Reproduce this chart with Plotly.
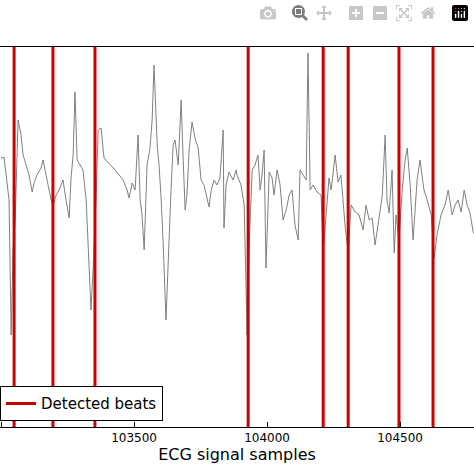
import plotly.graph_objects as go

# ECG samples (x) and amplitude (screen-down units, y axis reversed)
samples = [103000,103011,103019,103030,103038,103045,103053,103064,103075,103083,103094,103105,103117,103124,103135,103150,103158,103165,103177,103188,103196,103207,103218,103233,103244,103256,103263,103271,103278,103286,103297,103308,103320,103331,103338,103346,103357,103365,103376,103387,103402,103414,103429,103444,103459,103474,103481,103493,103504,103515,103523,103530,103538,103549,103560,103568,103575,103587,103594,103602,103609,103620,103632,103639,103647,103654,103666,103677,103684,103692,103699,103707,103718,103729,103741,103752,103763,103775,103782,103790,103801,103812,103823,103835,103838,103846,103857,103872,103884,
           103887,103902,103914,103925,103932,103944,103955,103966,103974,103981,103989,103996,104008,104019,104026,104038,104049,104060,104072,104083,104094,104105,104117,104124,104147,104154,104162,104173,104188,104203,104211,104222,104233,104241,104256,104267,104278,104293,104305,104316,104331,104346,104361,104372,104384,104395,104406,104421,104433,104444,104451,104459,104470,104478,104485,104496,104508,104519,104527,104538,104549,104564,104575,104590,104602,104617,104628,104639,104654,104669,104681,104696,104707,104718,104730,104741,104752,104763,104775,104782]
amplitude = [158,157,175,200,335,250,220,120,135,155,165,175,192,183,175,168,160,170,185,200,205,195,190,180,200,218,178,155,92,160,165,170,200,260,310,270,200,130,128,158,162,165,170,175,180,190,198,183,190,135,200,215,250,165,148,120,65,145,165,200,240,320,230,190,145,140,165,100,155,210,195,150,122,138,148,180,185,200,207,190,180,185,178,130,228,185,172,180,170,
             175,185,205,335,250,170,165,155,190,175,150,268,172,178,195,170,185,220,210,195,190,225,240,170,180,53,190,185,192,195,252,210,178,190,155,182,175,225,252,205,212,215,230,205,220,218,245,218,196,135,200,213,170,253,215,240,190,160,148,185,240,180,160,190,200,215,258,235,215,205,190,215,205,200,212,190,205,213,232,235]
beats = [103049,103195,103353,103929,104211,104305,104496,104624]
y_top, y_bottom = 47, 427

bx, by = [], []
for b in beats:
    bx += [b, b, None]
    by += [y_bottom, y_top, None]

fig = go.Figure()
fig.add_trace(go.Scatter(x=samples, y=amplitude, mode="lines", line=dict(color="#808080", width=1), showlegend=False))
fig.add_trace(go.Scatter(x=bx, y=by, mode="lines", line=dict(color="#cc0000", width=3), name="Detected beats"))

fig.update_layout(
    width=474, height=474, margin=dict(l=0, r=0, t=47, b=47),
    paper_bgcolor="white", plot_bgcolor="white",
    font=dict(family="DejaVu Sans", color="black"),
    xaxis=dict(range=[102996, 104778], tickvals=[103000, 103500, 104000, 104500], ticktext=["103000", "103500", "104000", "104500"],
               showgrid=False, zeroline=False, showline=True, linecolor="black", mirror=True, ticks="inside", tickcolor="black",
               tickfont=dict(size=12), automargin=False,
               title=dict(text="ECG signal samples", font=dict(size=16), standoff=4)),
    yaxis=dict(range=[y_bottom, y_top], showticklabels=False, showgrid=False, zeroline=False, showline=True, linecolor="black", mirror=True, automargin=False),
    legend=dict(x=0.0, y=0.015, xanchor="left", yanchor="bottom", bordercolor="black", borderwidth=1, bgcolor="white", font=dict(size=15)),
)
fig.write_html("out.html", post_script="document.body.style.margin='0';document.body.style.overflow='hidden';")
